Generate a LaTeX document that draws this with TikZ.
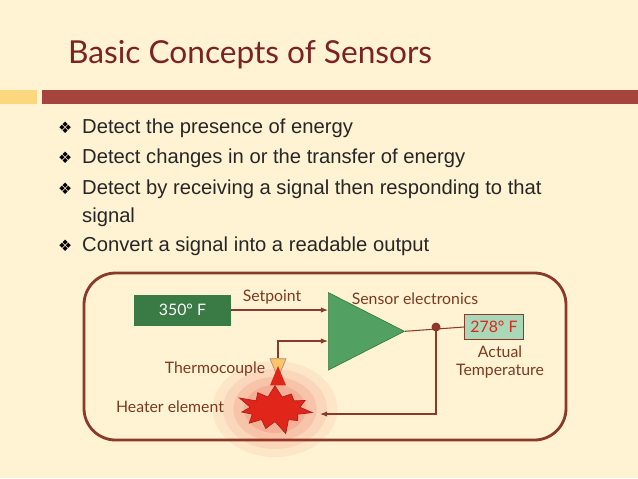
\documentclass[tikz,border=0pt]{standalone}
\usepackage{fontspec}
\setmainfont{Lato}
\newfontfamily\arialf{Liberation Sans}
\newfontfamily\djv{DejaVu Sans}
\usetikzlibrary{shapes.geometric,shapes.misc,shapes.symbols,arrows.meta}
\definecolor{bg}{HTML}{FFF3D3}
\definecolor{ttl}{HTML}{7B2222}
\definecolor{barred}{HTML}{A5433E}
\definecolor{baryel}{HTML}{FBD77E}
\definecolor{brn}{HTML}{8B3A2A}
\definecolor{txt}{HTML}{7B3A20}
\definecolor{dgreen}{HTML}{3A7A45}
\definecolor{mgreen}{HTML}{52A062}
\definecolor{lgreen}{HTML}{A8D8B8}
\definecolor{hred}{HTML}{E0261B}
\begin{document}
\begin{tikzpicture}[x=0.02cm,y=-0.02cm,
  lbl/.style={text=txt,font=\fontsize{9}{10}\selectfont},
  bul/.style={anchor=base west,font=\arialf\fontsize{11.5}{14}\selectfont,text=black!85},
  wire/.style={draw=brn,line width=0.6pt},
  arr/.style={wire,-{Latex[length=4pt,width=3pt]}}]
\fill[bg] (0,0) rectangle (638,478);
\useasboundingbox (0,0) rectangle (638,478);
\node[anchor=base west,text=ttl,font=\fontsize{18}{20}\selectfont] (title) at (62,63) {Basic Concepts of Sensors};
\fill[baryel] (0,90) rectangle (37,104);
\fill[barred] (42,90) rectangle (638,104);
\foreach \y/\t in {133/Detect the presence of energy,163/Detect changes in or the transfer of energy,194/Detect by receiving a signal then responding to that,251/Convert a signal into a readable output}{
  \node[anchor=base west,font=\djv\fontsize{9}{10}\selectfont] at (52,\y) {❖};
  \node[bul] at (76,\y) {\t};}
\node[bul] (sig) at (76,222) {signal};
\draw[brn,line width=1.6pt,rounded corners=18] (84,273) rectangle (566,440);
\node[fill=dgreen,minimum width=1.94cm,minimum height=0.62cm,text=white,font=\fontsize{9}{10}\selectfont] (sp) at (182.5,310) {350° F};
\node[lbl] (spl) at (272,297) {Setpoint};
\node[isosceles triangle,isosceles triangle apex angle=54,fill=mgreen,draw=dgreen,minimum height=1.52cm,inner sep=0pt,anchor=left corner] (amp) at (328,292) {};
\node[lbl] (sel) at (415,299) {Sensor electronics};
\node[fill=lgreen,draw=brn,line width=0.8pt,minimum width=1.12cm,minimum height=0.5cm,text=hred,font=\fontsize{9}{10}\selectfont] (out) at (494,327) {278° F};
\node[lbl,align=center] (at) at (500,362) {Actual\\Temperature};
\coordinate (dot) at (436,327);
\coordinate (in1) at (328,310);
\coordinate (in2) at (328,341);
\draw[arr] (sp.east) -- (in1);
\draw[wire] (amp.apex) -- (out.west);
\fill[brn] (dot) circle (4.5);
% heater
\foreach \r/\o in {48/0.06,40/0.08,32/0.1,24/0.12}{\fill[hred,opacity=\o] (275,409) ellipse ({\r*1.3} and \r);}
\node[starburst,starburst points=11,starburst point height=0.3cm,fill=hred,draw=hred!80!black,minimum width=1.6cm,minimum height=1.1cm] (heat) at (275,409) {};
\node[lbl] (hl) at (170,407) {Heater element};
\node[isosceles triangle,shape border rotate=-90,fill=baryel!80!orange,draw=brn!60,minimum height=0.24cm,minimum width=0.32cm,inner sep=0pt] (tc1) at (278,364) {};
\node[isosceles triangle,shape border rotate=90,fill=hred,minimum height=0.28cm,minimum width=0.32cm,inner sep=0pt] (tc2) at (278,380) {};
\node[lbl] (tcl) at (215,369) {Thermocouple};
\draw[arr] (tc1.north) -- (278,341) -- (in2);
\draw[arr] (dot) -- (436,414) -- (320,414);
\end{tikzpicture}
\end{document}
